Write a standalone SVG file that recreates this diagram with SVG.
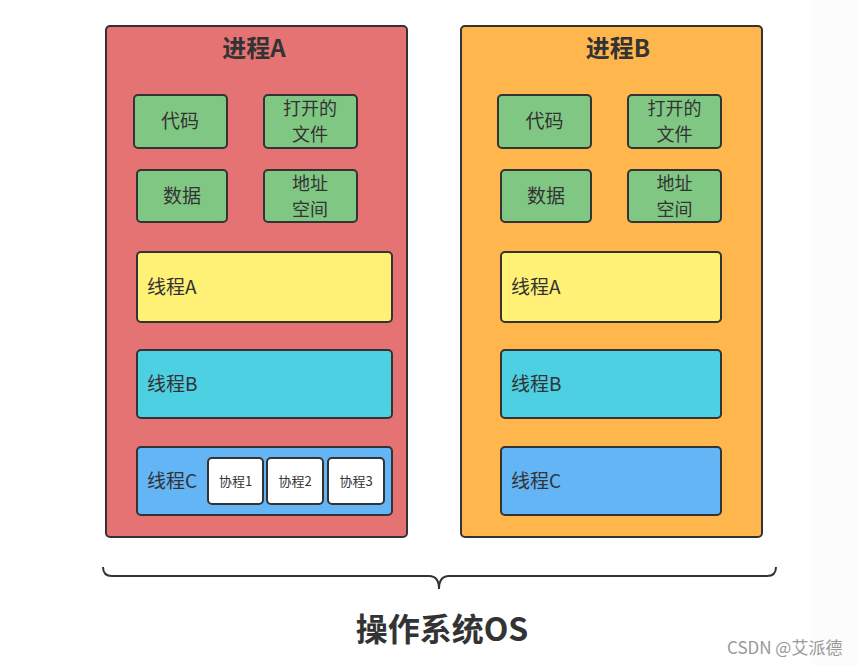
<svg xmlns="http://www.w3.org/2000/svg" width="857" height="666" viewBox="0 0 857 666">
<style>
.box{stroke:#333;stroke-width:2}
.t{font-family:"Noto Sans CJK SC","Noto Sans",sans-serif;fill:#333}
.title{font-size:24px;font-weight:bold;text-anchor:middle}
.g{font-size:19px;text-anchor:middle}
.g2{font-size:18px;text-anchor:middle}
.th{font-size:19px}
.co{font-size:13px;text-anchor:middle}
</style>
<rect x="0" y="0" width="857" height="666" fill="#ffffff"/>
<rect x="812" y="0" width="45" height="666" fill="#fcfcfc"/>
<g id="procA">
<rect class="box" x="106" y="26" width="301" height="511" rx="4" fill="#E57373"/>
<text class="t title" x="254" y="57">进程A</text>
</g>
<g id="procB">
<rect class="box" x="461" y="26" width="301" height="511" rx="4" fill="#FFB74D"/>
<text class="t title" x="618" y="57">进程B</text>
</g>
<g id="A-code"><rect class="box" x="134" y="95" width="93" height="53" rx="4" fill="#81C784"/><text class="t g" x="180" y="128">代码</text></g>
<g id="A-files"><rect class="box" x="264" y="95" width="93" height="53" rx="4" fill="#81C784"/><text class="t g2" x="310" y="115">打开的</text><text class="t g2" x="310" y="141">文件</text></g>
<g id="A-data"><rect class="box" x="137" y="170" width="90" height="52" rx="4" fill="#81C784"/><text class="t g" x="182" y="203">数据</text></g>
<g id="A-addr"><rect class="box" x="264" y="170" width="93" height="52" rx="4" fill="#81C784"/><text class="t g2" x="310" y="190">地址</text><text class="t g2" x="310" y="216">空间</text></g>
<g id="A-threadA"><rect class="box" x="137" y="252" width="255" height="70" rx="4" fill="#FFF176"/><text class="t th" x="147" y="294">线程A</text></g>
<g id="A-threadB"><rect class="box" x="137" y="350" width="255" height="68" rx="4" fill="#4DD0E1"/><text class="t th" x="147" y="391">线程B</text></g>
<g id="A-threadC"><rect class="box" x="137" y="447" width="255" height="68" rx="4" fill="#64B5F6"/><text class="t th" x="147" y="488">线程C</text></g>
<g id="co1"><rect class="box" x="208" y="458" width="55" height="46" rx="4" fill="#ffffff"/><text class="t co" x="235.5" y="486">协程1</text></g>
<g id="co2"><rect class="box" x="267" y="458" width="56" height="46" rx="4" fill="#ffffff"/><text class="t co" x="295" y="486">协程2</text></g>
<g id="co3"><rect class="box" x="328" y="458" width="56" height="46" rx="4" fill="#ffffff"/><text class="t co" x="356" y="486">协程3</text></g>
<g id="B-code"><rect class="box" x="498" y="95" width="93" height="53" rx="4" fill="#81C784"/><text class="t g" x="544.5" y="128">代码</text></g>
<g id="B-files"><rect class="box" x="628" y="95" width="93" height="53" rx="4" fill="#81C784"/><text class="t g2" x="674.5" y="115">打开的</text><text class="t g2" x="674.5" y="141">文件</text></g>
<g id="B-data"><rect class="box" x="501" y="170" width="90" height="52" rx="4" fill="#81C784"/><text class="t g" x="546" y="203">数据</text></g>
<g id="B-addr"><rect class="box" x="628" y="170" width="93" height="52" rx="4" fill="#81C784"/><text class="t g2" x="674.5" y="190">地址</text><text class="t g2" x="674.5" y="216">空间</text></g>
<g id="B-threadA"><rect class="box" x="501" y="252" width="220" height="70" rx="4" fill="#FFF176"/><text class="t th" x="511" y="294">线程A</text></g>
<g id="B-threadB"><rect class="box" x="501" y="350" width="220" height="68" rx="4" fill="#4DD0E1"/><text class="t th" x="511" y="391">线程B</text></g>
<g id="B-threadC"><rect class="box" x="501" y="447" width="220" height="68" rx="4" fill="#64B5F6"/><text class="t th" x="511" y="488">线程C</text></g>
<g id="connectors">
<path d="M103 567 Q103 576 112 576 L429 576 Q439 576 439 589 Q439 576 449 576 L767 576 Q776 576 776 567" fill="none" stroke="#333" stroke-width="2"/>
</g>
<g id="os"><text class="t" x="442" y="641" font-size="32" font-weight="bold" text-anchor="middle">操作系统OS</text></g>
<text x="727" y="654" font-family="Noto Sans CJK SC, sans-serif" font-size="17" fill="#999">CSDN @艾派德</text>
</svg>
